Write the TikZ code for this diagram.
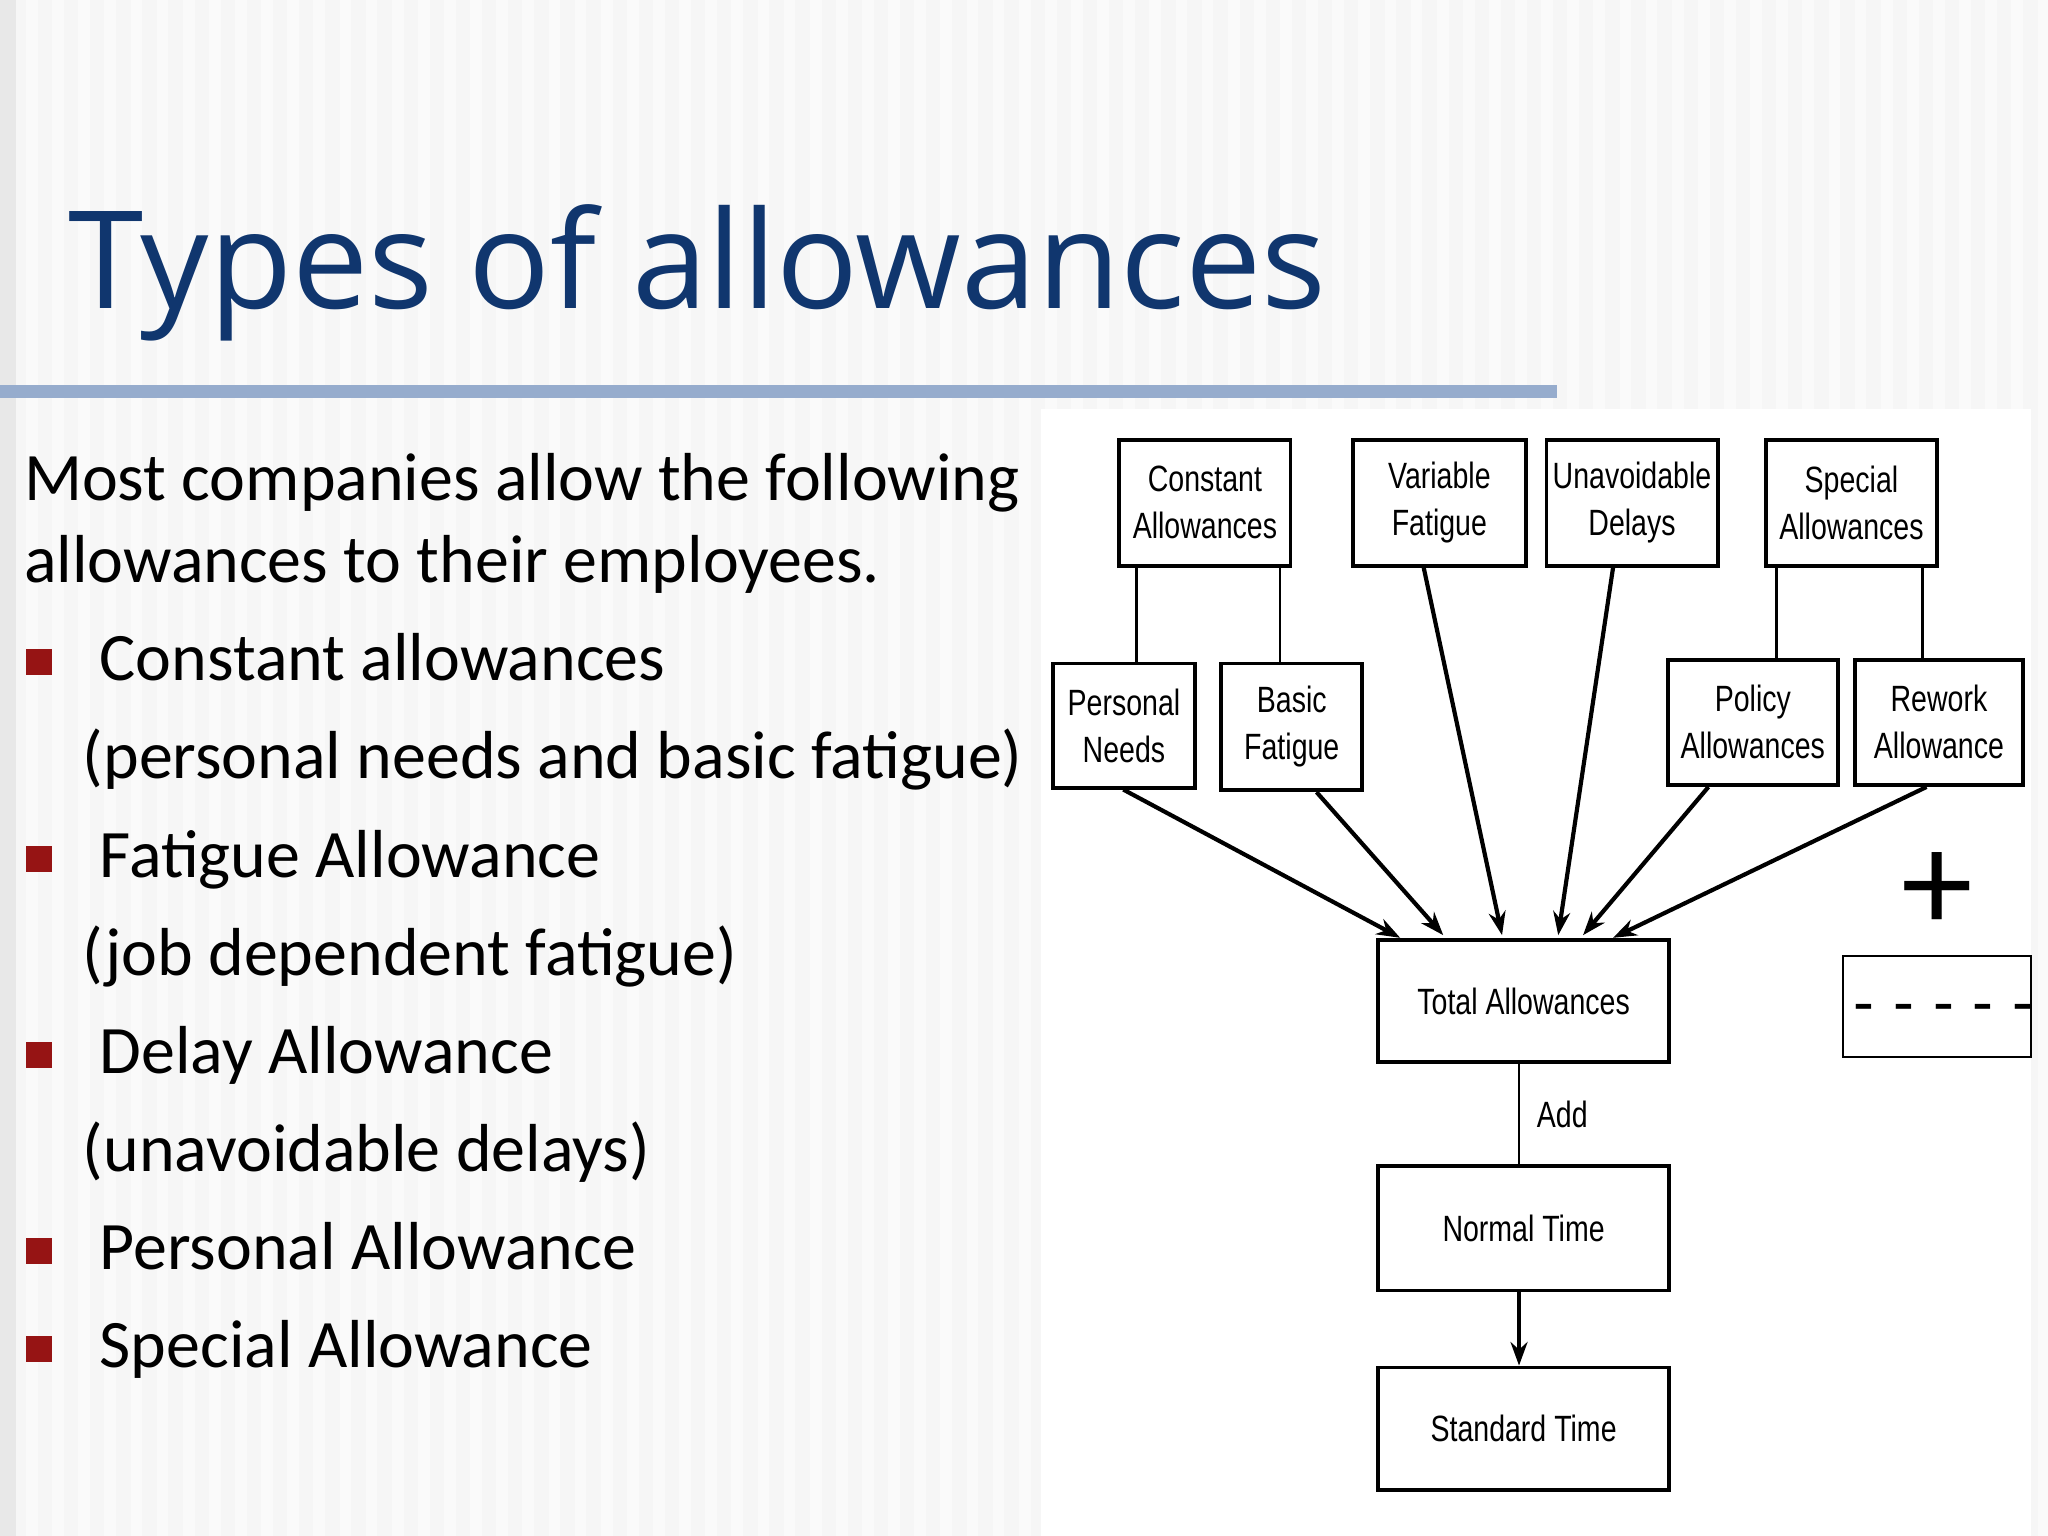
\documentclass[tikz,border=0pt]{standalone}
\usepackage{fontspec}
\setmainfont{Carlito}
\newfontfamily\titlefont{Open Sans}
\newfontfamily\nar[FakeStretch=0.78]{Liberation Sans}
\newfontfamily\dashfont[LetterSpace=30]{Liberation Sans}
\usetikzlibrary{arrows.meta}
\definecolor{titleblue}{RGB}{16,54,110}
\definecolor{rulec}{RGB}{150,172,205}
\definecolor{bulletred}{RGB}{150,20,20}
\begin{document}
\begin{tikzpicture}[x=0.5pt,y=-0.5pt,
  box/.style={draw,line width=1.5pt,inner sep=0pt,align=center,font=\nar\fontsize{14}{18}\selectfont},
  conn/.style={line width=1pt},
  arr/.style={line width=1.6pt,-{Stealth[length=9pt,width=6.5pt]}},
  body/.style={anchor=base west,inner sep=0pt,font=\fontsize{26}{28}\selectfont},
  bul/.style={fill=bulletred,minimum size=10pt,inner sep=0pt}]
\useasboundingbox (0,0) rectangle (1568,1176);
\fill[gray!7] (0,0) rectangle (1568,1176);
\foreach \i in {0,...,78} {\fill[white,opacity=0.5] (\i*20,0) rectangle (\i*20+9,1176);}
\fill[gray!18] (0,0) rectangle (12,1176);
\node[anchor=base west,inner sep=0pt,text=titleblue,font=\titlefont\fontsize{52}{56}\selectfont] (title) at (52,236) {Types of allowances};
\fill[rulec] (0,295) rectangle (1192,305);
% left text
\node[body] (t1) at (18,383) {Most companies allow the following};
\node[body] (t2) at (18,446) {allowances to their employees.};
\node[bul] (b1) at (30,507) {}; \node[body] (l1) at (76,521) {Constant allowances};
\node[body] (l2) at (63,596) {(personal needs and basic fatigue)};
\node[bul] (b2) at (30,658) {}; \node[body] (l3) at (76,672) {Fatigue Allowance};
\node[body] (l4) at (63,747) {(job dependent fatigue)};
\node[bul] (b3) at (30,808) {}; \node[body] (l5) at (76,822) {Delay Allowance};
\node[body] (l6) at (63,897) {(unavoidable delays)};
\node[bul] (b4) at (30,958) {}; \node[body] (l7) at (76,972) {Personal Allowance};
\node[bul] (b5) at (30,1033) {}; \node[body] (l8) at (76,1047) {Special Allowance};
% diagram area
\fill[white] (797,313) rectangle (1555,1176);
\node[box,minimum width=65.5pt,minimum height=48pt] (ca) at (922.5,385) {Constant\\Allowances};
\node[box,minimum width=66pt,minimum height=48pt] (vf) at (1102,385) {Variable\\Fatigue};
\node[box,minimum width=65.5pt,minimum height=48pt] (ud) at (1249.5,385) {Unavoidable\\Delays};
\node[box,minimum width=65.5pt,minimum height=48pt] (sa) at (1417.5,385) {Special\\Allowances};
\node[box,minimum width=54.5pt,minimum height=47.5pt] (pn) at (860.5,555.5) {Personal\\Needs};
\node[box,minimum width=54pt,minimum height=48.5pt] (bf) at (989,556.5) {Basic\\Fatigue};
\node[box,minimum width=65pt,minimum height=48pt] (pa) at (1342,553) {Policy\\Allowances};
\node[box,minimum width=64.5pt,minimum height=48pt] (ra) at (1484.5,553) {Rework\\Allowance};
\node[box,minimum width=111.5pt,minimum height=46.5pt] (ta) at (1166.5,766.5) {Total Allowances};
\node[box,minimum width=111.5pt,minimum height=47.5pt] (nt) at (1166.5,940.5) {Normal Time};
\node[box,minimum width=111.5pt,minimum height=47pt] (st) at (1166.5,1094) {Standard Time};
\draw[conn] (ca.south -| 870,0) -- (pn.north -| 870,0);
\draw[conn] (ca.south -| 980,0) -- (bf.north -| 980,0);
\draw[conn] (sa.south -| 1360,0) -- (pa.north -| 1360,0);
\draw[conn] (sa.south -| 1472,0) -- (ra.north -| 1472,0);
\coordinate (e1) at (1072,718); \coordinate (e2) at (1105,716); \coordinate (e3) at (1150,716);
\coordinate (e4) at (1193,716); \coordinate (e5) at (1212,716); \coordinate (e6) at (1235,718);
\draw[arr] (pn.south -| 860,0) -- (e1);
\draw[arr] (bf.south -| 1008,0) -- (e2);
\draw[arr] (vf.south -| 1090,0) -- (e3);
\draw[arr] (ud.south -| 1235,0) -- (e4);
\draw[arr] (pa.south -| 1308,0) -- (e5);
\draw[arr] (ra.south -| 1475,0) -- (e6);
\draw[conn] (ta.south -| 1163,0) -- node[right=3pt,font=\nar\fontsize{14}{17}\selectfont] (add) {Add} (nt.north -| 1163,0);
\draw[arr] (nt.south -| 1163,0) -- (st.north -| 1163,0);
\node[font=\fontsize{55}{55}\selectfont] (plus) at (1483,683) {+};
\draw[line width=0.8pt] (1411,732) rectangle (1555,809);
\node[font=\dashfont\fontsize{24}{24}\selectfont,inner sep=0pt] (mb) at (1488,776) {-{}-{}-{}-{}-};
\end{tikzpicture}
\end{document}
